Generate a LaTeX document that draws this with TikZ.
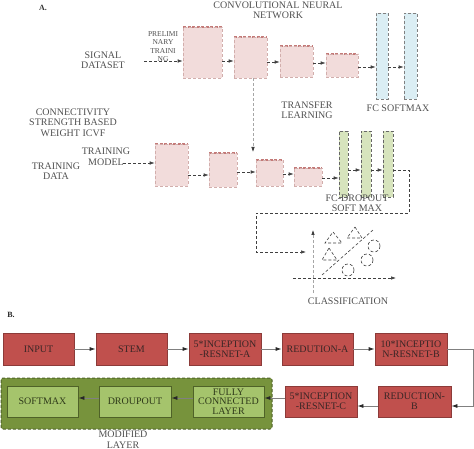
\documentclass[tikz,border=0pt]{standalone}
\usepackage{fontspec}
\setmainfont{Liberation Serif}
\usetikzlibrary{arrows.meta}
\definecolor{txt}{HTML}{505050}
\definecolor{pinkf}{HTML}{F2DCDB}
\definecolor{pinkd}{HTML}{D2AEAC}
\definecolor{pinkt}{HTML}{C47A78}
\definecolor{bluef}{HTML}{DBEEF4}
\definecolor{greenf}{HTML}{D7E4BD}
\definecolor{redf}{HTML}{C0504D}
\definecolor{redd}{HTML}{8C3B39}
\definecolor{olive}{HTML}{77933C}
\definecolor{olived}{HTML}{4F6228}
\definecolor{lgreen}{HTML}{A5C46C}
\definecolor{btxt}{HTML}{3A2626}
\definecolor{gtxt}{HTML}{2F3A1A}
\begin{document}
\begin{tikzpicture}[x=1pt,y=-1pt,
  lbl/.style={text=txt,align=center,inner sep=0,font=\fontsize{10}{10.5}\selectfont},
  small/.style={text=txt,align=center,inner sep=0,font=\fontsize{7.5}{8.3}\selectfont},
  pinkbox/.style={fill=pinkf,draw=pinkd,dash pattern=on 3pt off 2pt,line width=0.6pt,inner sep=0,
    path picture={\draw[pinkt,line width=1.4pt,dash pattern=on 3pt off 1.5pt] (path picture bounding box.north west) -- (path picture bounding box.north east);}},
  fcbox/.style={fill=bluef,draw=gray,dash pattern=on 3pt off 2pt,line width=0.6pt,inner sep=0},
  gbox/.style={fill=greenf,draw=gray!80!black,dash pattern=on 3pt off 2pt,line width=0.6pt,inner sep=0},
  darr/.style={draw=black!75,dash pattern=on 3pt off 2pt,line width=0.6pt,-{Latex[length=5pt,width=3.5pt]}},
  dln/.style={draw=black!75,dash pattern=on 3pt off 2pt,line width=0.6pt},
  redbox/.style={fill=redf,draw=redd,line width=0.8pt,minimum width=71pt,minimum height=32pt,inner sep=0,
    align=center,text=btxt,font=\fontsize{10}{10}\selectfont},
  grbox/.style={fill=lgreen,draw=olived,line width=0.8pt,minimum width=71pt,minimum height=31pt,inner sep=0,
    align=center,text=gtxt,font=\fontsize{10}{10}\selectfont},
  barr/.style={draw=gray,line width=0.8pt,-{Latex[length=6pt,width=4pt,black!85]}}
]
\useasboundingbox (0,0) rectangle (474,449);

% ---------- Part A ----------
\node[text=black!80,font=\bfseries\fontsize{8}{8}\selectfont,inner sep=0] (la) at (43,8) {A.};
\node[lbl] (cnn) at (278,10.5) {CONVOLUTIONAL NEURAL\\NETWORK};
\node[lbl] (sig) at (103,60) {SIGNAL\\DATASET};
\node[small] (pre) at (163,46.5) {PRELIMI\\NARY\\TRAINI\\NG};
\coordinate (s0) at (144,61);

\node[pinkbox,minimum width=39pt,minimum height=51pt] (c1) at (202.5,52.5) {};
\node[pinkbox,minimum width=33pt,minimum height=41pt] (c2) at (250.5,57.5) {};
\node[pinkbox,minimum width=33pt,minimum height=31pt] (c3) at (296.5,61.5) {};
\node[pinkbox,minimum width=32pt,minimum height=23pt] (c4) at (342,65.5) {};
\node[fcbox,minimum width=12pt,minimum height=86pt] (f1) at (382,56) {};
\node[fcbox,minimum width=13pt,minimum height=86pt] (f2) at (410.5,56) {};

\draw[darr] (s0) -- (c1.west|-s0);
\draw[darr] (c1.east|-0,61) -- (c2.west|-0,61);
\draw[darr] (c2.east|-0,62) -- (c3.west|-0,62);
\draw[darr] (c3.east|-0,63) -- (c4.west|-0,63);
\draw[darr] (c4.east|-0,67) -- (f1.west|-0,67);
\draw[darr] (f1.east|-0,67) -- (f2.west|-0,67);

\node[lbl] (tl) at (307,110) {TRANSFER\\LEARNING};
\node[lbl] (fcs) at (398,108) {FC SOFTMAX};

\coordinate (tr) at (253,152);
\draw[draw=gray!70,dash pattern=on 3pt off 2pt,line width=0.6pt,
  -{Latex[length=5pt,width=3.5pt,black!80]}] (c2.south-|tr) -- (tr);

% row 2
\node[lbl] (conn) at (73,122.5) {CONNECTIVITY\\STRENGTH BASED\\WEIGHT ICVF};
\node[lbl] (tm) at (106,156.5) {TRAINING\\MODEL};
\node[lbl] (td) at (56,171) {TRAINING\\DATA};
\coordinate (m0) at (123,163);

\node[pinkbox,minimum width=33pt,minimum height=42pt] (r1) at (171.5,165) {};
\node[pinkbox,minimum width=28pt,minimum height=34pt] (r2) at (223,170) {};
\node[pinkbox,minimum width=27pt,minimum height=26pt] (r3) at (269.5,173) {};
\node[pinkbox,minimum width=28pt,minimum height=18pt] (r4) at (308,177) {};
\node[gbox,minimum width=9pt,minimum height=66pt] (g1) at (343.5,164) {};
\node[gbox,minimum width=10pt,minimum height=66pt] (g2) at (366,164) {};
\node[gbox,minimum width=10pt,minimum height=66pt] (g3) at (388,164) {};

\draw[darr] (m0) -- (r1.west|-m0);
\draw[darr] (r1.east|-0,175) -- (r2.west|-0,175);
\draw[darr] (r2.east|-0,172) -- (r3.west|-0,172);
\draw[darr] (r3.east|-0,174) -- (r4.west|-0,174);
\draw[darr] (r4.east|-0,178) -- (g1.west|-0,178);
\draw[darr] (g1.east|-0,170) -- (g2.west|-0,170);
\draw[darr] (g2.east|-0,170) -- (g3.west|-0,170);

\node[lbl] (fdo) at (357,203) {FC-DROPOUT\\SOFT MAX};

% loop to classification
\coordinate (cl) at (306,252);
\draw[darr] (g3.east|-0,170) -- (409,170) -- (409,213) -- (256,213) -- (256,252) -- (cl);

% classification plot
\coordinate (ya) at (313,230);
\coordinate (xa) at (396,278);
\draw[draw=gray!70,dash pattern=on 3pt off 2pt,line width=0.6pt,
  -{Latex[length=5pt,width=3.5pt,black!80]}] (313,293) -- (ya);
\draw[darr] (293,278) -- (xa);
\draw[dln] (322,275) -- (373,230);
\draw[dln] (333,232) -- (342,243) -- (325,243) -- cycle;
\draw[dln] (355,227) -- (362,238) -- (347,238) -- cycle;
\draw[dln] (329,248) -- (337,260) -- (322,260) -- cycle;
\draw[dln] (374,246) circle[radius=6];
\draw[dln] (367,260) circle[radius=6];
\draw[dln] (348,270) circle[radius=6];
\node[lbl] (cls) at (348,301) {CLASSIFICATION};

% ---------- Part B ----------
\node[text=black!85,font=\bfseries\fontsize{8}{8}\selectfont,inner sep=0] (lb) at (11,315) {B.};

\node[fill=olive,draw=olived,dash pattern=on 3pt off 2pt,line width=1pt,rounded corners=2pt,
  minimum width=271pt,minimum height=51pt,inner sep=0] (mod) at (136.5,403.5) {};

\node[redbox] (in) at (38.5,349) {INPUT};
\node[redbox] (stem) at (131.5,349) {STEM};
\node[redbox,minimum width=72pt] (ia) at (225,349) {5*INCEPTION\\-RESNET-A};
\node[redbox] (ra) at (317.5,349) {REDUTION-A};
\node[redbox,minimum width=72pt] (ib) at (411,349) {10*INCEPTIO\\N-RESNET-B};

\node[redbox,minimum width=73pt,minimum height=31pt] (rb) at (414.5,401.5) {REDUCTION-\\B};
\node[redbox,minimum width=72pt,minimum height=31pt] (ic) at (321,401.5) {5*INCEPTION\\-RESNET-C};

\node[grbox,font=\fontsize{10}{9.6}\selectfont] (fc) at (228.5,401.5) {FULLY\\CONNECTED\\LAYER};
\node[grbox,minimum width=72pt] (dr) at (135,401.5) {DROUPOUT};
\node[grbox] (sm) at (42.5,401.5) {SOFTMAX};

\draw[barr] (in) -- (stem);
\draw[barr] (stem) -- (ia);
\draw[barr] (ia) -- (ra);
\draw[barr] (ra) -- (ib);
\draw[barr] (ib.east) -- (473,349) -- (473,406) -- (rb.east|-0,406);
\draw[barr] (rb.west|-0,406) -- (ic.east|-0,406);
\draw[barr] (ic.west|-0,398) -- (fc.east|-0,398);
\draw[barr] (fc.west|-0,398) -- (dr.east|-0,398);
\draw[barr] (dr.west|-0,398) -- (sm.east|-0,398);

\node[lbl] (ml) at (123,439.5) {MODIFIED\\LAYER};
\end{tikzpicture}
\end{document}
